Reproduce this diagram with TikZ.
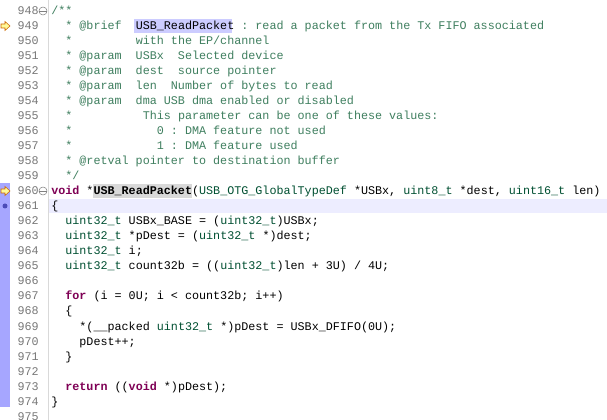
\documentclass[tikz,border=0pt]{standalone}
\usepackage{fontspec}
\setmonofont{Liberation Mono}
\newfontfamily\codefont{Liberation Mono}
\definecolor{cmt}{HTML}{3F7F5F}
\definecolor{kwc}{HTML}{7F0055}
\definecolor{tyc}{HTML}{005032}
\definecolor{lnc}{HTML}{787878}
\newcommand{\cm}[1]{\textcolor{cmt}{#1}}
\newcommand{\kw}[1]{\textcolor{kwc}{\bfseries #1}}
\newcommand{\ty}[1]{\textcolor{tyc}{#1}}
\begin{document}
\begin{tikzpicture}[x=0.75pt,y=-0.75pt,
  code/.style={anchor=base west,inner sep=0pt,font=\codefont\fontsize{8.8}{10}\selectfont},
  lnum/.style={anchor=base east,inner sep=0pt,text=lnc,font=\codefont\fontsize{8.8}{10}\selectfont},
  fold/.style={draw=gray,fill=white,circle,inner sep=0pt,minimum size=6pt}]
\useasboundingbox (0,0) rectangle (607,420);
\fill[white] (0,0) rectangle (607,420);
% gutter strip
\fill[blue!35] (0,183) rectangle (10,407);
\draw[gray!30] (48.5,0) -- (48.5,420);
% highlights
\fill[blue!20] (134,19) rectangle (232,33);
\fill[blue!7] (49,199) rectangle (607,213);
\fill[gray!30] (93,184) rectangle (192,198);
% arrows
\foreach \yy in {26,191}{
  \draw[orange!80!black,fill=yellow!40] (1,\yy-2) -- (5,\yy-2) -- (5,\yy-4.5) -- (10,\yy) -- (5,\yy+4.5) -- (5,\yy+2) -- (1,\yy+2) -- cycle;
}
\fill[blue!60!black!70] (5,206) circle (2.5);
% line numbers
\foreach \n [count=\k from 0] in {948,...,975}{
  \node[lnum] (ln\n) at (39,15+15*\k) {\n};
}
\node[fold] (f1) at (43,11) {};
\draw[gray] (f1.west) -- (f1.east);
\node[fold] (f2) at (43,191) {};
\draw[gray] (f2.west) -- (f2.east);
% code lines
\node[code] (c948) at (51,15) {\cm{/**}};
\node[code] (c949) at (51,30) {\cm{~~*~@brief~~}USB\_ReadPacket\cm{~:~read~a~packet~from~the~Tx~FIFO~associated}};
\node[code] (c950) at (51,45) {\cm{~~*~~~~~~~~~with~the~EP/channel}};
\node[code] (c951) at (51,60) {\cm{~~*~@param~~USBx~~Selected~device}};
\node[code] (c952) at (51,75) {\cm{~~*~@param~~dest~~source~pointer}};
\node[code] (c953) at (51,90) {\cm{~~*~@param~~len~~Number~of~bytes~to~read}};
\node[code] (c954) at (51,105) {\cm{~~*~@param~~dma~USB~dma~enabled~or~disabled}};
\node[code] (c955) at (51,120) {\cm{~~*~~~~~~~~~~This~parameter~can~be~one~of~these~values:}};
\node[code] (c956) at (51,135) {\cm{~~*~~~~~~~~~~~~0~:~DMA~feature~not~used}};
\node[code] (c957) at (51,150) {\cm{~~*~~~~~~~~~~~~1~:~DMA~feature~used}};
\node[code] (c958) at (51,165) {\cm{~~*~@retval~pointer~to~destination~buffer}};
\node[code] (c959) at (51,180) {\cm{~~*/}};
\node[code] (c960) at (51,195) {\kw{void}~*{\bfseries USB\_ReadPacket}(\ty{USB\_OTG\_GlobalTypeDef}~*USBx,~\ty{uint8\_t}~*dest,~\ty{uint16\_t}~len)};
\node[code] (c961) at (51,210) {\{};
\node[code] (c962) at (51,225) {~~\ty{uint32\_t}~USBx\_BASE~=~(\ty{uint32\_t})USBx;};
\node[code] (c963) at (51,240) {~~\ty{uint32\_t}~*pDest~=~(\ty{uint32\_t}~*)dest;};
\node[code] (c964) at (51,255) {~~\ty{uint32\_t}~i;};
\node[code] (c965) at (51,270) {~~\ty{uint32\_t}~count32b~=~((\ty{uint32\_t})len~+~3U)~/~4U;};
\node[code] (c967) at (51,300) {~~\kw{for}~(i~=~0U;~i~<~count32b;~i++)};
\node[code] (c968) at (51,315) {~~\{};
\node[code] (c969) at (51,330) {~~~~*(\_\_packed~\ty{uint32\_t}~*)pDest~=~USBx\_DFIFO(0U);};
\node[code] (c970) at (51,345) {~~~~pDest++;};
\node[code] (c971) at (51,360) {~~\}};
\node[code] (c973) at (51,390) {~~\kw{return}~((\kw{void}~*)pDest);};
\node[code] (c974) at (51,405) {\}};
\end{tikzpicture}
\end{document}
